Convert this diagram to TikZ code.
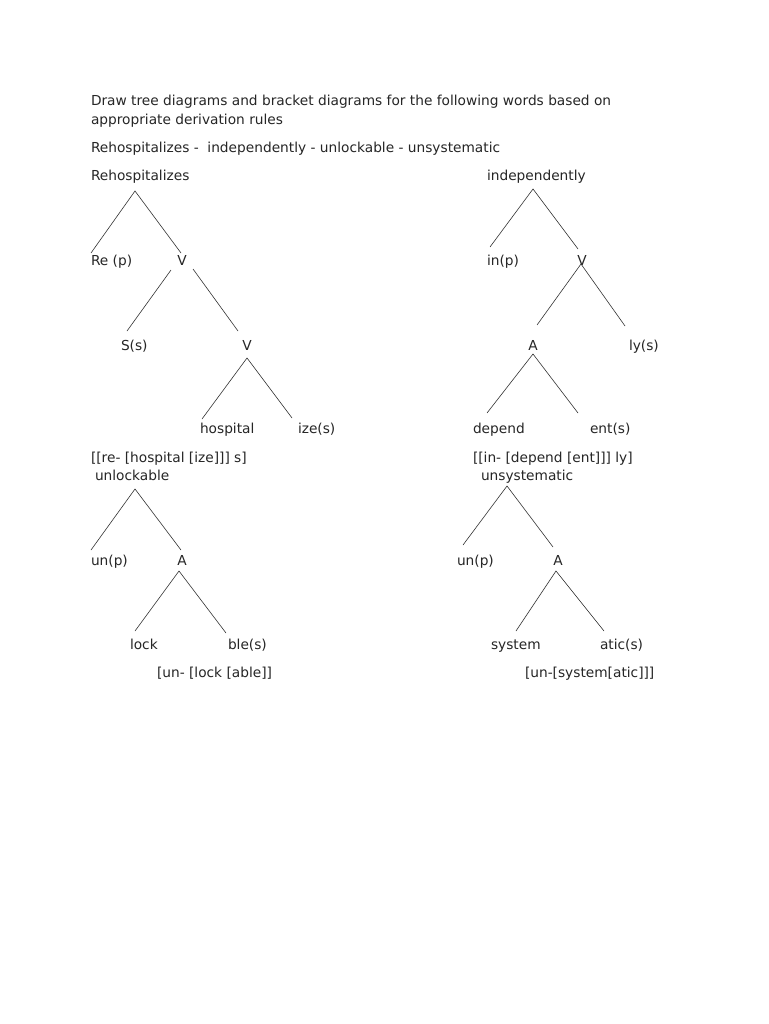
\documentclass[tikz,border=0pt]{standalone}
\usepackage{fontspec}
\setmainfont{DejaVu Sans}
\begin{document}
\begin{tikzpicture}[x=0.75pt,y=-0.75pt,
  txt/.style={anchor=base west,inner sep=0pt,outer sep=0pt,font=\fontsize{10.3}{12}\selectfont,text=black!85},
  ctr/.style={anchor=base,inner sep=0pt,outer sep=0pt,font=\fontsize{10.3}{12}\selectfont,text=black!85},
  branch/.style={draw=black!80,line width=0.45pt}]
\fill[white] (0,0) rectangle (768,1024);
\useasboundingbox (0,0) rectangle (768,1024);
% heading
\node[txt] (h1) at (91,105) {Draw tree diagrams and bracket diagrams for the following words based on};
\node[txt] (h2) at (91,124) {appropriate derivation rules};
\node[txt] (h3) at (91,152) {Rehospitalizes -\ \ independently - unlockable - unsystematic};
% tree 1
\node[txt] (t1) at (91,180) {Rehospitalizes};
\node[txt] (t1a) at (91,265) {Re (p)};
\node[ctr] (t1b) at (182,265) {V};
\node[txt] (t1c) at (121,350) {S(s)};
\node[ctr] (t1d) at (247,350) {V};
\node[txt] (t1e) at (200,433) {hospital};
\node[txt] (t1f) at (298,433) {ize(s)};
\node[txt] (t1g) at (91,462) {[[re- [hospital [ize]]] s]};
\coordinate (p1) at (135,191); \coordinate (p1l) at (91,253); \coordinate (p1r) at (181,253);
\coordinate (p2l0) at (171,270); \coordinate (p2l) at (127,331);
\coordinate (p2r0) at (193,269); \coordinate (p2r) at (238,331);
\coordinate (p3) at (247,358); \coordinate (p3l) at (202,419); \coordinate (p3r) at (292,418);
\draw[branch] (p1l) -- (p1) -- (p1r);
\draw[branch] (p2l0) -- (p2l);
\draw[branch] (p2r0) -- (p2r);
\draw[branch] (p3l) -- (p3) -- (p3r);
% tree 2
\node[txt] (t2) at (487,180) {independently};
\node[txt] (t2a) at (487,265) {in(p)};
\node[ctr] (t2b) at (582,265) {V};
\node[ctr] (t2c) at (533,350) {A};
\node[txt] (t2d) at (629,350) {ly(s)};
\node[txt] (t2e) at (473,433) {depend};
\node[txt] (t2f) at (590,433) {ent(s)};
\node[txt] (t2g) at (473,462) {[[in- [depend [ent]]] ly]};
\coordinate (q1) at (533,189); \coordinate (q1l) at (490,247); \coordinate (q1r) at (578,249);
\coordinate (q2) at (581,264); \coordinate (q2l) at (537,325); \coordinate (q2r) at (625,326);
\coordinate (q3) at (533,354); \coordinate (q3l) at (487,413); \coordinate (q3r) at (578,413);
\draw[branch] (q1l) -- (q1) -- (q1r);
\draw[branch] (q2l) -- (q2) -- (q2r);
\draw[branch] (q3l) -- (q3) -- (q3r);
% tree 3
\node[txt] (t3) at (95,480) {unlockable};
\node[txt] (t3a) at (91,565) {un(p)};
\node[ctr] (t3b) at (182,565) {A};
\node[txt] (t3c) at (130,649) {lock};
\node[txt] (t3d) at (228,649) {ble(s)};
\node[txt] (t3e) at (157,677) {[un- [lock [able]]};
\coordinate (r1) at (135,489); \coordinate (r1l) at (91,550); \coordinate (r1r) at (181,550);
\coordinate (r2) at (179,571); \coordinate (r2l) at (135,631); \coordinate (r2r) at (226,633);
\draw[branch] (r1l) -- (r1) -- (r1r);
\draw[branch] (r2l) -- (r2) -- (r2r);
% tree 4
\node[txt] (t4) at (481,480) {unsystematic};
\node[txt] (t4a) at (457,565) {un(p)};
\node[ctr] (t4b) at (558,565) {A};
\node[txt] (t4c) at (491,649) {system};
\node[txt] (t4d) at (600,649) {atic(s)};
\node[txt] (t4e) at (525,677) {[un-[system[atic]]]};
\coordinate (s1) at (507,486); \coordinate (s1l) at (463,545); \coordinate (s1r) at (553,547);
\coordinate (s2) at (556,571); \coordinate (s2l) at (516,631); \coordinate (s2r) at (604,631);
\draw[branch] (s1l) -- (s1) -- (s1r);
\draw[branch] (s2l) -- (s2) -- (s2r);
\end{tikzpicture}
\end{document}
